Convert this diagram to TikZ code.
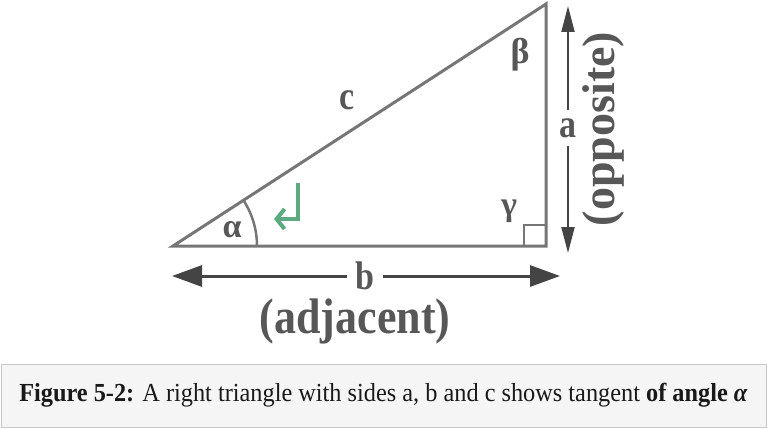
\documentclass[tikz,border=0pt]{standalone}
\usepackage{fontspec}
\setmainfont{Liberation Serif}
\usetikzlibrary{arrows.meta, positioning}
\definecolor{edgegray}{HTML}{767676}
\definecolor{labelgray}{HTML}{575757}
\definecolor{arrowgray}{HTML}{444444}
\definecolor{markgreen}{HTML}{5BAA80}
\definecolor{capfill}{HTML}{F5F5F5}
\definecolor{capline}{HTML}{C6C6C6}

\begin{document}
\begin{tikzpicture}[x=1pt, y=-1pt,
  every node/.style={text=labelgray, inner sep=2pt},
  sidelbl/.style={font=\fontsize{40}{40}\selectfont\bfseries, xscale=0.85},
  anglelbl/.style={font=\fontsize{#1}{#1}\selectfont\bfseries},
  sidename/.style={font=\fontsize{50}{50}\selectfont\bfseries, xscale=0.88},
  widearrow/.style={arrowgray, line width=3pt, -{Triangle[length=30pt, width=21pt]}},
  thinarrow/.style={arrowgray, line width=2pt, -{Triangle[length=26pt, width=13pt]}}]

\useasboundingbox (0,0) rectangle (768,428);

% triangle corners
\coordinate (A) at (173,246); \coordinate (B) at (546,246); \coordinate (C) at (546,4);
\draw[edgegray, line width=3pt] (A) -- (B) -- (C) -- cycle;

% right angle mark and angle arc
\draw[edgegray, line width=2.5pt] (524,246) |- (546,225);
\draw[edgegray, line width=2.5pt] ([shift={(0:84)}]A) arc[start angle=0, end angle=-33, radius=84];

% green turn arrow
\draw[markgreen, line width=4pt, -{Straight Barb[length=8pt, width=20pt]}] (298,183) |- (274,219);

% angle labels
\node[anglelbl=34] (alpha) at (232,230) {α};
\node[anglelbl=36] (beta) at (520,55) {β};
\node[anglelbl=34] (gamma) at (509,211) {γ};

% hypotenuse
\node[sidelbl] (c) at (347,100) {c};

% bottom side b
\node[sidelbl, inner xsep=10pt, inner ysep=0pt] (b) at (365,276) {b};
\coordinate (bL) at (172,276); \coordinate (bR) at (560,276);
\draw[widearrow] (b) -- (bL);
\draw[widearrow] (b) -- (bR);
\node[sidename, inner sep=0pt] (adjacent) at (355,321) {(adjacent)};

% vertical side a
\node[sidelbl, inner sep=8pt] (a) at (568,128) {a};
\coordinate (aT) at (568,6); \coordinate (aB) at (568,253);
\draw[thinarrow] (a) -- (aT);
\draw[thinarrow] (a) -- (aB);
\node[font=\fontsize{46}{46}\selectfont\bfseries, rotate=90] (opposite) at (603,129) {(opposite)};

% caption
\node[draw=capline, fill=capfill, line width=1pt, minimum width=765pt, minimum height=63pt, inner sep=0pt] (capbox) at (383.5,395.5) {};
\node[text=black!90, font=\fontsize{26}{26}\selectfont, xscale=0.935] (caption) at (capbox.center)
  {\textbf{Figure 5-2:} A right triangle with sides a, b and c shows tangent \textbf{of angle \textit{α}}};

\end{tikzpicture}
\end{document}
